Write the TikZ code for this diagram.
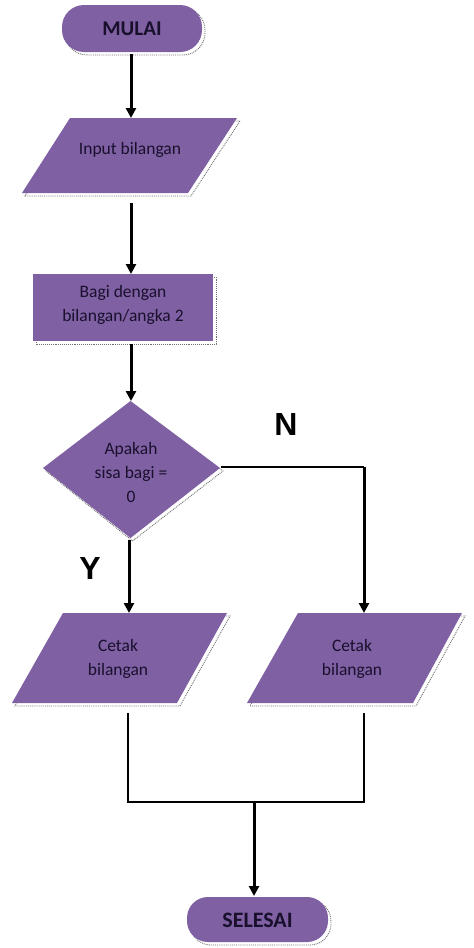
\documentclass[tikz,border=0pt]{standalone}
\usepackage{fontspec}
\setmainfont{Carlito}
\newfontfamily\arialfont{Liberation Sans}
\usetikzlibrary{arrows.meta}
\definecolor{pfill}{RGB}{127,96,163}
\definecolor{ptext}{RGB}{25,16,45}
\definecolor{shadecol}{RGB}{110,110,110}
\begin{document}
\begin{tikzpicture}[x=1pt,y=-1pt,
  shapefill/.style={fill=pfill},
  shad/.style={draw=shadecol, densely dotted, line width=0.9pt},
  lbl/.style={text=ptext, align=center, font=\fontsize{17.5}{24}\selectfont, inner sep=0pt},
  termlbl/.style={text=ptext, font=\bfseries\fontsize{21}{24}\selectfont, inner sep=0pt},
  yn/.style={font=\arialfont\bfseries\fontsize{32}{36}\selectfont, inner sep=0pt},
  arr/.style={-{Triangle[length=10pt,width=10pt]}, line width=3pt},
  thinln/.style={line width=1.8pt}]
\useasboundingbox (0,0) rectangle (474,948);
\fill[white] (0,0) rectangle (474,948);

% MULAI
\draw[shad, rounded corners=22] (65,8) rectangle (205,55);
\fill[shapefill, rounded corners=22] (62,5) rectangle (202,52);
\node[termlbl] (mulai) at (132,28.5) {MULAI};
\coordinate (mulaiB) at (131,54);

% Input bilangan
\draw[shad] (73,121) -- (240,121) -- (191,196) -- (25,196) -- cycle;
\fill[shapefill] (70,118) -- (237,118) -- (188,193) -- (22,193) -- cycle;
\node[lbl] (input) at (130,150) {Input bilangan};
\coordinate (inputT) at (131,118);
\coordinate (inputB) at (131,203);

% Bagi
\draw[shad] (36,277) rectangle (216,344);
\fill[shapefill] (33,274) rectangle (213,341);
\node[lbl] (bagi) at (123,305) {Bagi dengan\\bilangan/angka 2};
\coordinate (bagiT) at (131,274);
\coordinate (bagiB) at (131,344);

% Diamond
\draw[shad] (132.5,404) -- (223,471) -- (132.5,541) -- (46,471) -- cycle;
\fill[shapefill] (130.5,401) -- (220,468) -- (130.5,538) -- (43,468) -- cycle;
\node[lbl] (dec) at (131,472) {Apakah\\sisa bagi =\\0};
\coordinate (decT) at (131,401);
\coordinate (decR) at (221,467);
\coordinate (decB) at (129,540);
\coordinate (corner) at (364,467);

% Left Cetak
\draw[shad] (66,616) -- (230,616) -- (180,706) -- (15,706) -- cycle;
\fill[shapefill] (63,613) -- (227,613) -- (177,703) -- (12,703) -- cycle;
\node[lbl] (cetakL) at (118,659) {Cetak\\bilangan};
\coordinate (cetakLT) at (129,613);
\coordinate (cetakLB) at (128,713);

% Right Cetak
\draw[shad] (301,616) -- (465,616) -- (416,706) -- (250,706) -- cycle;
\fill[shapefill] (298,613) -- (462,613) -- (413,703) -- (247,703) -- cycle;
\node[lbl] (cetakR) at (352,659) {Cetak\\bilangan};
\coordinate (cetakRT) at (364,613);
\coordinate (cetakRB) at (364,713);

% join
\coordinate (joinL) at (128,802);
\coordinate (joinR) at (364,802);
\coordinate (joinM) at (254,802);

% SELESAI
\draw[shad, rounded corners=21] (190,900) rectangle (331,945);
\fill[shapefill, rounded corners=21] (187,897) rectangle (328,942);
\node[termlbl, font=\bfseries\fontsize{22}{24}\selectfont] (selesai) at (257.5,920) {SELESAI};
\coordinate (selesaiT) at (254,896);

% labels
\node[yn] (nlabel) at (286,424) {N};
\node[yn] (ylabel) at (90,568) {Y};

% connectors
\draw[arr] (mulaiB) -- (inputT);
\draw[arr] (inputB) -- (bagiT);
\draw[arr] (bagiB) -- (decT);
\draw[arr] (decB) -- (cetakLT);
\draw[thinln] (decR) -- (corner);
\draw[arr] (corner) -- (cetakRT);
\draw[thinln] (cetakLB) -- (joinL) -- (joinR) -- (cetakRB);
\draw[arr] (joinM) -- (selesaiT);
\end{tikzpicture}
\end{document}
